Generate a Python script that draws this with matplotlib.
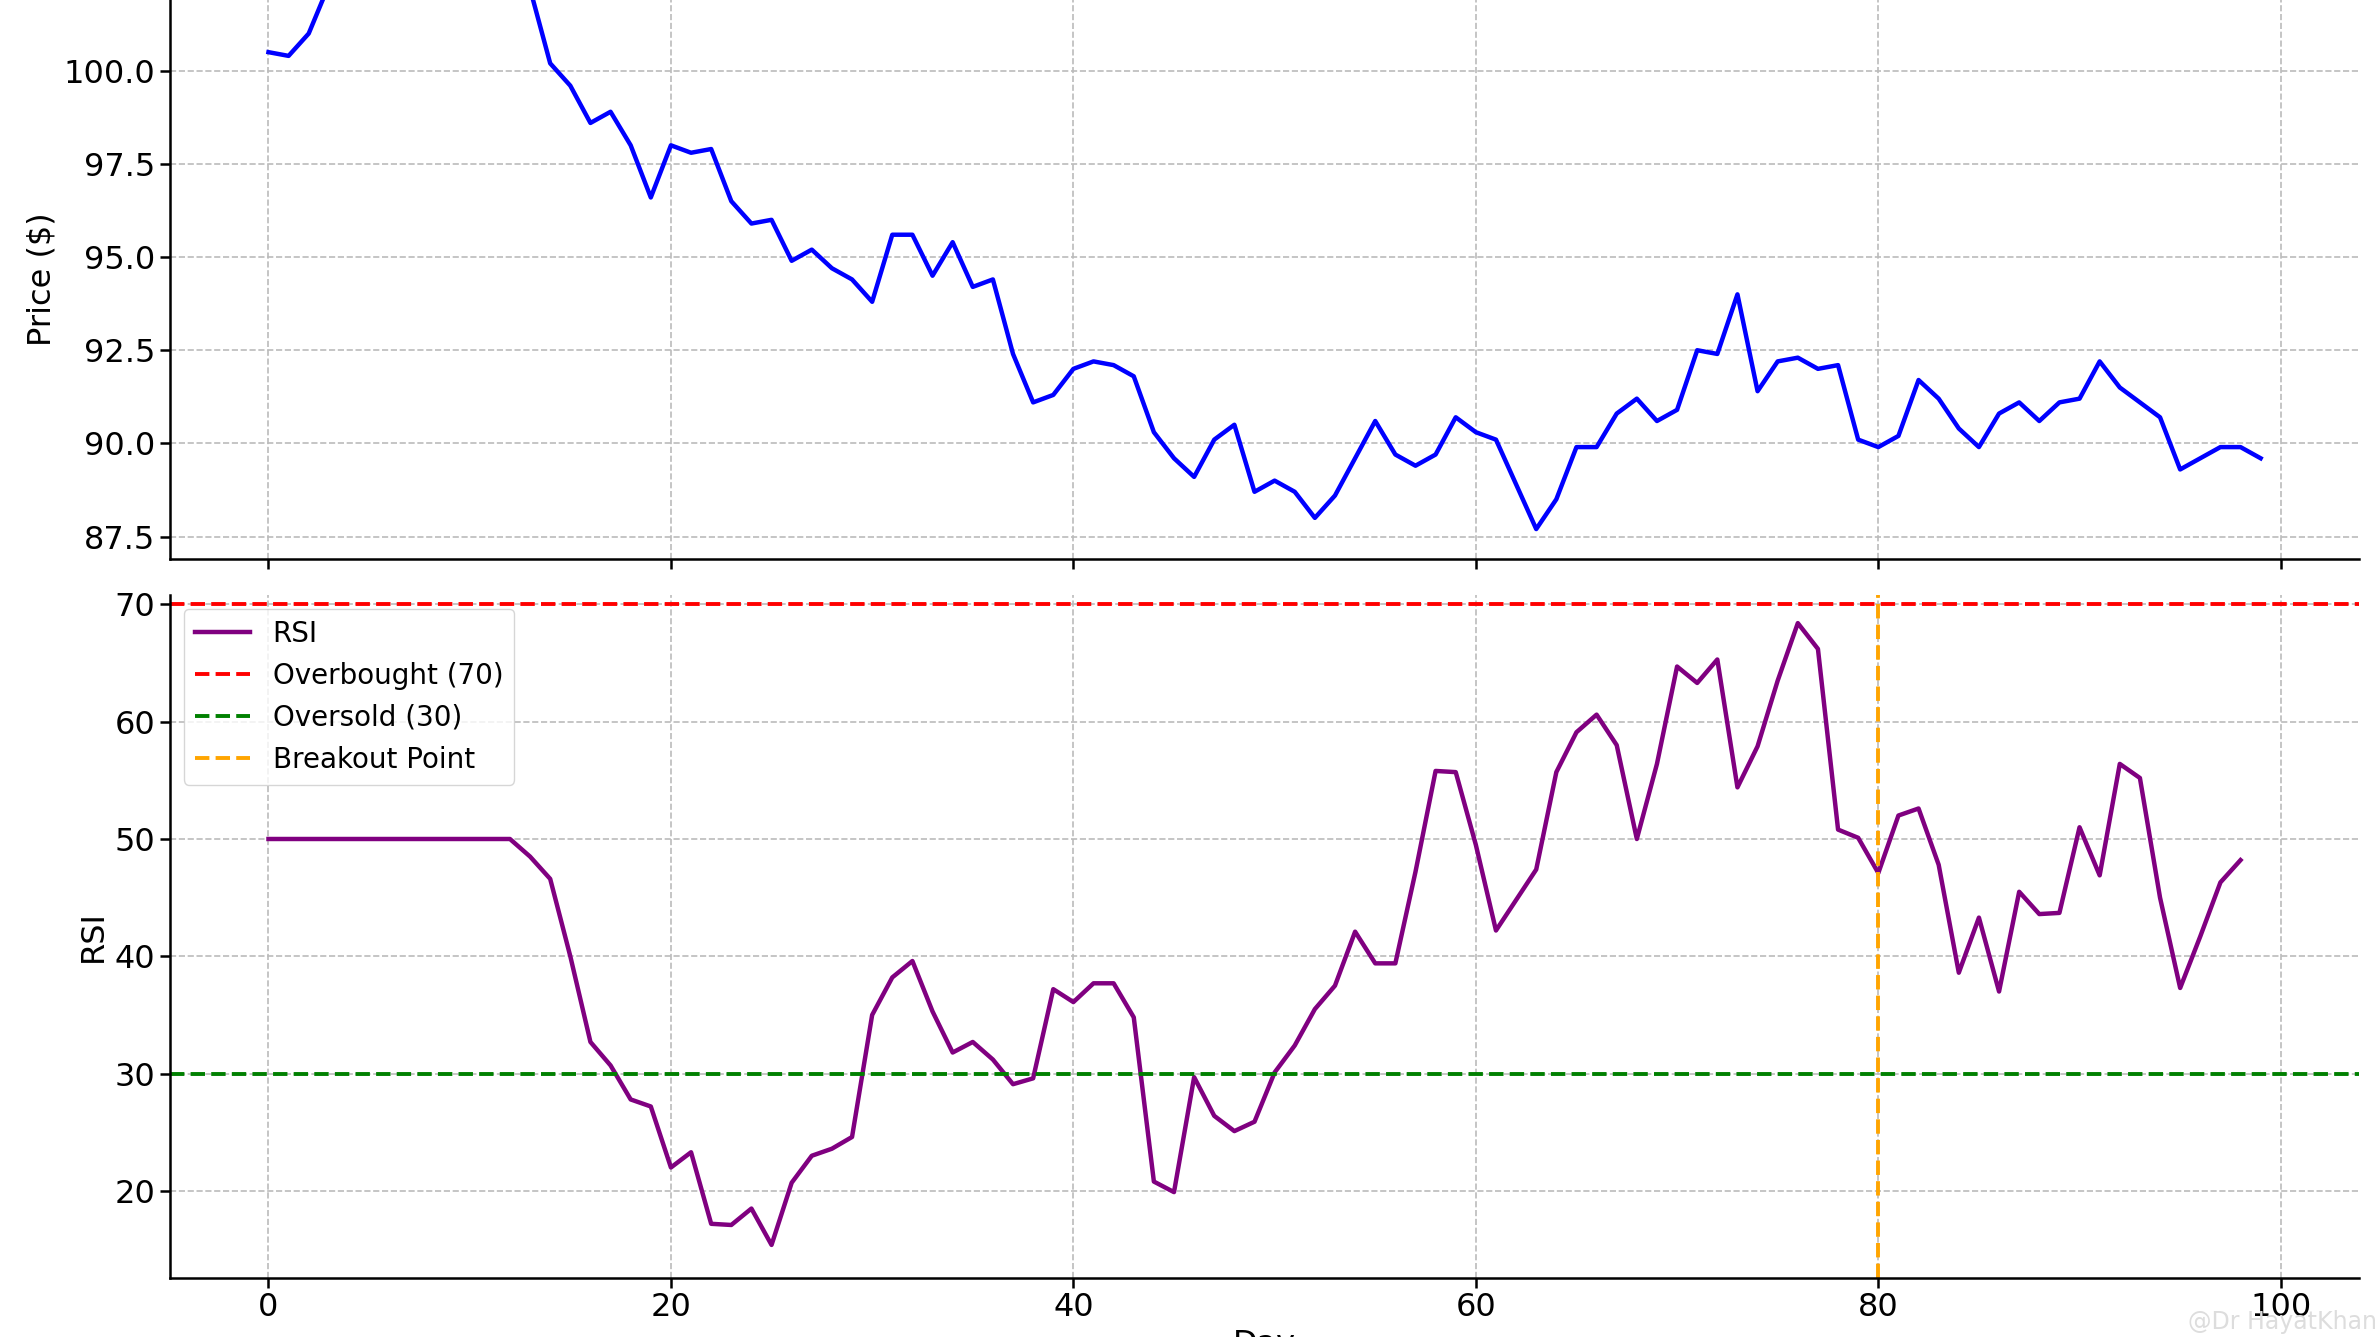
import matplotlib
matplotlib.use("Agg")
import matplotlib.pyplot as plt
import numpy as np

price = [100.5,100.4,101.0,102.3,103.0,104.0,103.5,104.0,103.0,104.5,103.5,103.0,102.5,102.2,
         100.2,99.6,98.6,98.9,98.0,96.6,98.0,97.8,97.9,96.5,95.9,96.0,94.9,95.2,94.7,94.4,
         93.8,95.6,95.6,94.5,95.4,94.2,94.4,92.4,91.1,91.3,92.0,92.2,92.1,91.8,90.3,89.6,
         89.1,90.1,90.5,88.7,89.0,88.7,88.0,88.6,89.6,90.6,89.7,89.4,89.7,90.7,90.3,90.1,
         88.9,87.7,88.5,89.9,89.9,90.8,91.2,90.6,90.9,92.5,92.4,94.0,91.4,92.2,92.3,92.0,
         92.1,90.1,89.9,90.2,91.7,91.2,90.4,89.9,90.8,91.1,90.6,91.1,91.2,92.2,91.5,91.1,
         90.7,89.3,89.6,89.9,89.9,89.6]
rsi = [50,50,50,50,50,50,50,50,50,50,50,50,50,48.5,46.6,40,32.7,30.7,27.8,27.2,22,23.3,
       17.2,17.1,18.5,15.4,20.7,23,23.6,24.6,35,38.2,39.6,35.3,31.8,32.7,31.2,29.1,29.6,
       37.2,36.1,37.7,37.7,34.8,20.8,19.9,29.7,26.4,25.1,25.9,30.1,32.4,35.5,37.5,42.1,
       39.4,39.4,47.2,55.8,55.7,49.5,42.2,44.8,47.4,55.7,59.1,60.6,58,50,56.4,64.7,63.3,
       65.3,54.4,57.9,63.5,68.4,66.2,50.8,50.1,47.1,52,52.6,47.8,38.6,43.3,37,45.5,43.6,
       43.7,51,46.9,56.4,55.2,45,37.3,41.7,46.3,48.2]
price_ticks = [87.5, 90.0, 92.5, 95.0, 97.5, 100.0]
overbought, oversold, breakout = 70, 30, 80

fig = plt.figure(figsize=(23.79, 13.37), dpi=100)
ax1 = fig.add_axes([0.0714, 0.582, 0.9203, 0.418])
ax2 = fig.add_axes([0.0714, 0.0443, 0.9203, 0.5107])

ax1.plot(range(len(price)), price, color='blue', lw=3.2)
ax1.set_ylim(86.9, 101.9)
ax1.set_yticks(price_ticks)
ax1.set_yticklabels([f"{t:.1f}" for t in price_ticks])
ax1.set_ylabel("Price ($)", fontsize=23)
ax1.set_xticklabels([])

ax2.plot(range(len(rsi)), rsi, color='purple', lw=3.2, label='RSI')
ax2.axhline(overbought, color='red', ls='--', lw=2.8, label='Overbought (70)')
ax2.axhline(oversold, color='green', ls='--', lw=2.8, label='Oversold (30)')
ax2.axvline(breakout, color='orange', ls='--', lw=2.8, label='Breakout Point')
ax2.set_ylim(12.6, 70.8)
ax2.set_ylabel("RSI", fontsize=23)
ax2.set_xlabel("Day", fontsize=23)
ax2.legend(loc='upper left', fontsize=20, bbox_to_anchor=(0.0, 1.0))

for ax in (ax1, ax2):
    ax.set_xlim(-4.9, 103.9)
    ax.set_xticks([0, 20, 40, 60, 80, 100])
    ax.grid(True, ls='--', color='#bbbbbb', lw=1.2)
    ax.spines['top'].set_visible(False)
    ax.spines['right'].set_visible(False)
    ax.spines['left'].set_linewidth(1.8)
    ax.spines['bottom'].set_linewidth(1.8)
    ax.tick_params(labelsize=23, width=1.8, length=7)

fig.text(0.999, 0.002, "@Dr HayatKhan", ha='right', va='bottom', fontsize=17, color='#dddddd')
fig.savefig("out.png", dpi=100)
